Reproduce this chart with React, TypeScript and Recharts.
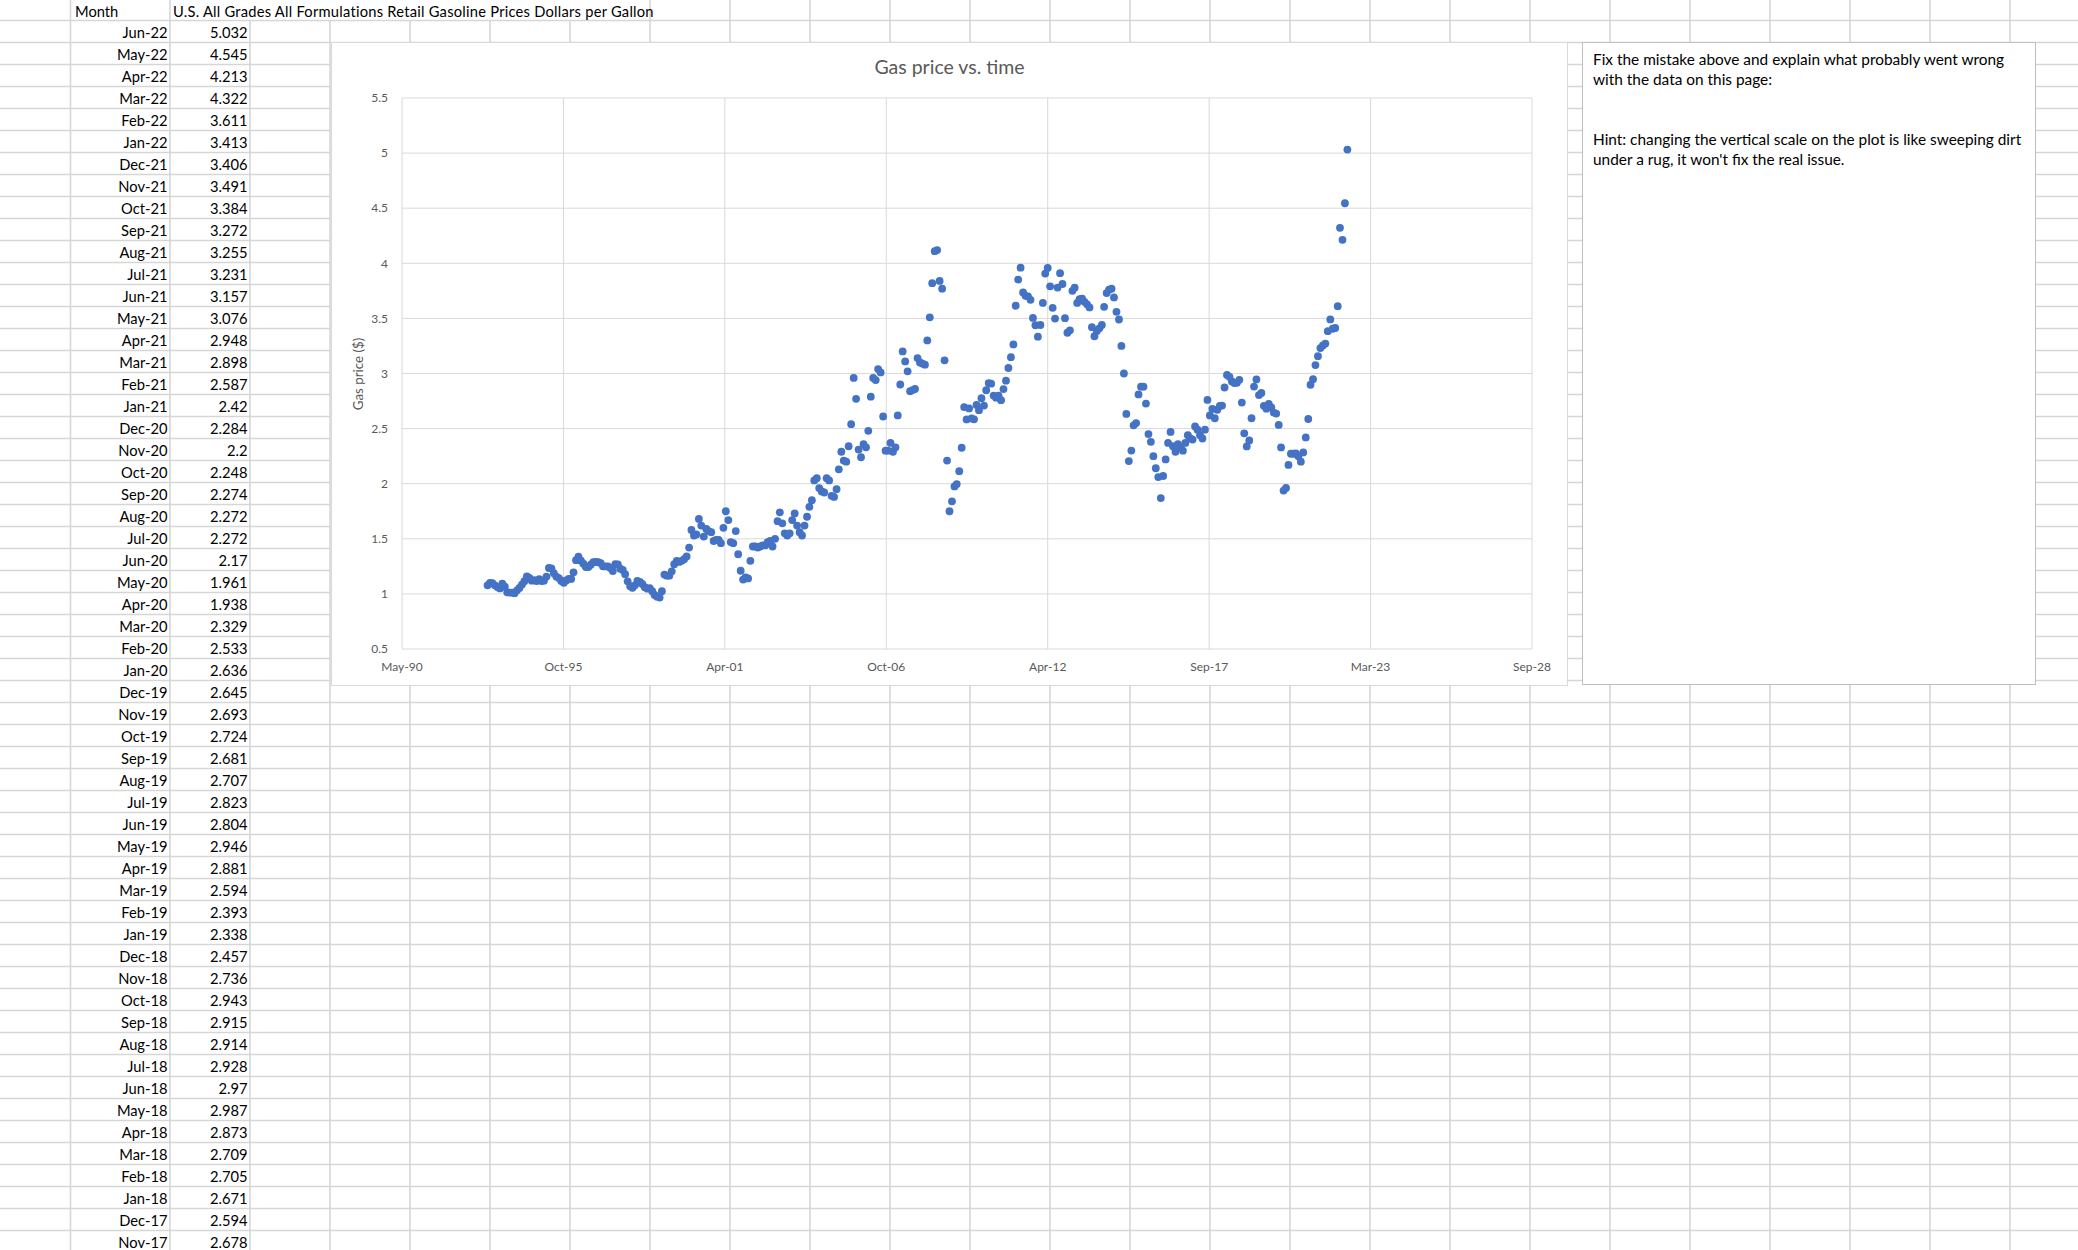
import React from 'react';
import { ScatterChart, Scatter, XAxis, YAxis, CartesianGrid } from 'recharts';

// ---------- data (month label, U.S. all grades retail gasoline price $/gal) ----------
const prices1993to1999: [string, number][] = [
  ['Apr-93', 1.078], ['May-93', 1.1], ['Jun-93', 1.097], ['Jul-93', 1.078], ['Aug-93', 1.062], ['Sep-93', 1.05],
  ['Oct-93', 1.092], ['Nov-93', 1.066], ['Dec-93', 1.014],
  ['Jan-94', 1.012], ['Feb-94', 1.012], ['Mar-94', 1.007], ['Apr-94', 1.032], ['May-94', 1.054], ['Jun-94', 1.085],
  ['Jul-94', 1.115], ['Aug-94', 1.159], ['Sep-94', 1.145], ['Oct-94', 1.12], ['Nov-94', 1.124], ['Dec-94', 1.117],
  ['Jan-95', 1.134], ['Feb-95', 1.117], ['Mar-95', 1.12], ['Apr-95', 1.157], ['May-95', 1.235], ['Jun-95', 1.232],
  ['Jul-95', 1.188], ['Aug-95', 1.157], ['Sep-95', 1.144], ['Oct-95', 1.118], ['Nov-95', 1.101], ['Dec-95', 1.122],
  ['Jan-96', 1.136], ['Feb-96', 1.136], ['Mar-96', 1.196], ['Apr-96', 1.306], ['May-96', 1.337], ['Jun-96', 1.301],
  ['Jul-96', 1.274], ['Aug-96', 1.243], ['Sep-96', 1.243], ['Oct-96', 1.265], ['Nov-96', 1.289], ['Dec-96', 1.29],
  ['Jan-97', 1.288], ['Feb-97', 1.279], ['Mar-97', 1.25], ['Apr-97', 1.249], ['May-97', 1.25], ['Jun-97', 1.236],
  ['Jul-97', 1.208], ['Aug-97', 1.271], ['Sep-97', 1.268], ['Oct-97', 1.229], ['Nov-97', 1.217], ['Dec-97', 1.179],
  ['Jan-98', 1.114], ['Feb-98', 1.07], ['Mar-98', 1.055], ['Apr-98', 1.078], ['May-98', 1.117], ['Jun-98', 1.109],
  ['Jul-98', 1.09], ['Aug-98', 1.061], ['Sep-98', 1.047], ['Oct-98', 1.052], ['Nov-98', 1.025], ['Dec-98', 0.99],
  ['Jan-99', 0.975], ['Feb-99', 0.967], ['Mar-99', 1.025], ['Apr-99', 1.175], ['May-99', 1.165], ['Jun-99', 1.165],
  ['Jul-99', 1.205], ['Aug-99', 1.27], ['Sep-99', 1.3], ['Oct-99', 1.29], ['Nov-99', 1.3], ['Dec-99', 1.315],
];

const prices2000to2007: [string, number][] = [
  ['Jan-00', 1.34], ['Feb-00', 1.42], ['Mar-00', 1.58], ['Apr-00', 1.53], ['May-00', 1.54], ['Jun-00', 1.68],
  ['Jul-00', 1.62], ['Aug-00', 1.52], ['Sep-00', 1.59], ['Oct-00', 1.57], ['Nov-00', 1.56], ['Dec-00', 1.48],
  ['Jan-01', 1.49], ['Feb-01', 1.49], ['Mar-01', 1.46], ['Apr-01', 1.6], ['May-01', 1.75], ['Jun-01', 1.67],
  ['Jul-01', 1.47], ['Aug-01', 1.46], ['Sep-01', 1.57], ['Oct-01', 1.36], ['Nov-01', 1.21], ['Dec-01', 1.13],
  ['Jan-02', 1.15], ['Feb-02', 1.14], ['Mar-02', 1.3], ['Apr-02', 1.43], ['May-02', 1.43], ['Jun-02', 1.42],
  ['Jul-02', 1.43], ['Aug-02', 1.44], ['Sep-02', 1.44], ['Oct-02', 1.47], ['Nov-02', 1.48], ['Dec-02', 1.43],
  ['Jan-03', 1.5], ['Feb-03', 1.66], ['Mar-03', 1.74], ['Apr-03', 1.64], ['May-03', 1.55], ['Jun-03', 1.53],
  ['Jul-03', 1.55], ['Aug-03', 1.67], ['Sep-03', 1.73], ['Oct-03', 1.62], ['Nov-03', 1.56], ['Dec-03', 1.53],
  ['Jan-04', 1.62], ['Feb-04', 1.7], ['Mar-04', 1.79], ['Apr-04', 1.85], ['May-04', 2.03], ['Jun-04', 2.05],
  ['Jul-04', 1.96], ['Aug-04', 1.93], ['Sep-04', 1.92], ['Oct-04', 2.05], ['Nov-04', 2.03], ['Dec-04', 1.89],
  ['Jan-05', 1.88], ['Feb-05', 1.95], ['Mar-05', 2.13], ['Apr-05', 2.29], ['May-05', 2.21], ['Jun-05', 2.2],
  ['Jul-05', 2.34], ['Aug-05', 2.54], ['Sep-05', 2.96], ['Oct-05', 2.77], ['Nov-05', 2.31], ['Dec-05', 2.24],
  ['Jan-06', 2.36], ['Feb-06', 2.33], ['Mar-06', 2.48], ['Apr-06', 2.79], ['May-06', 2.96], ['Jun-06', 2.94],
  ['Jul-06', 3.04], ['Aug-06', 3.01], ['Sep-06', 2.61], ['Oct-06', 2.3], ['Nov-06', 2.3], ['Dec-06', 2.37],
  ['Jan-07', 2.29], ['Feb-07', 2.33], ['Mar-07', 2.62], ['Apr-07', 2.9], ['May-07', 3.2], ['Jun-07', 3.11],
  ['Jul-07', 3.02], ['Aug-07', 2.84], ['Sep-07', 2.85], ['Oct-07', 2.86], ['Nov-07', 3.14], ['Dec-07', 3.1],
];

const prices2008to2014: [string, number][] = [
  ['Jan-08', 3.09], ['Feb-08', 3.08], ['Mar-08', 3.3], ['Apr-08', 3.51], ['May-08', 3.82], ['Jun-08', 4.11],
  ['Jul-08', 4.12], ['Aug-08', 3.84], ['Sep-08', 3.77], ['Oct-08', 3.12], ['Nov-08', 2.21], ['Dec-08', 1.75],
  ['Jan-09', 1.84], ['Feb-09', 1.975], ['Mar-09', 1.997], ['Apr-09', 2.114], ['May-09', 2.326], ['Jun-09', 2.695],
  ['Jul-09', 2.583], ['Aug-09', 2.683], ['Sep-09', 2.592], ['Oct-09', 2.584], ['Nov-09', 2.715], ['Dec-09', 2.667],
  ['Jan-10', 2.776], ['Feb-10', 2.709], ['Mar-10', 2.848], ['Apr-10', 2.913], ['May-10', 2.908], ['Jun-10', 2.8],
  ['Jul-10', 2.781], ['Aug-10', 2.798], ['Sep-10', 2.758], ['Oct-10', 2.859], ['Nov-10', 2.935], ['Dec-10', 3.05],
  ['Jan-11', 3.148], ['Feb-11', 3.264], ['Mar-11', 3.615], ['Apr-11', 3.852], ['May-11', 3.96], ['Jun-11', 3.735],
  ['Jul-11', 3.705], ['Aug-11', 3.7], ['Sep-11', 3.669], ['Oct-11', 3.504], ['Nov-11', 3.438], ['Dec-11', 3.334],
  ['Jan-12', 3.44], ['Feb-12', 3.64], ['Mar-12', 3.907], ['Apr-12', 3.958], ['May-12', 3.791], ['Jun-12', 3.596],
  ['Jul-12', 3.498], ['Aug-12', 3.78], ['Sep-12', 3.91], ['Oct-12', 3.812], ['Nov-12', 3.502], ['Dec-12', 3.37],
  ['Jan-13', 3.392], ['Feb-13', 3.75], ['Mar-13', 3.779], ['Apr-13', 3.64], ['May-13', 3.675], ['Jun-13', 3.68],
  ['Jul-13', 3.65], ['Aug-13', 3.628], ['Sep-13', 3.6], ['Oct-13', 3.42], ['Nov-13', 3.338], ['Dec-13', 3.386],
  ['Jan-14', 3.41], ['Feb-14', 3.44], ['Mar-14', 3.605], ['Apr-14', 3.73], ['May-14', 3.76], ['Jun-14', 3.77],
  ['Jul-14', 3.69], ['Aug-14', 3.56], ['Sep-14', 3.49], ['Oct-14', 3.25], ['Nov-14', 3.0], ['Dec-14', 2.633],
];

const prices2015to2022: [string, number][] = [
  ['Jan-15', 2.205], ['Feb-15', 2.301], ['Mar-15', 2.53], ['Apr-15', 2.55], ['May-15', 2.81], ['Jun-15', 2.88],
  ['Jul-15', 2.88], ['Aug-15', 2.727], ['Sep-15', 2.45], ['Oct-15', 2.38], ['Nov-15', 2.25], ['Dec-15', 2.14],
  ['Jan-16', 2.06], ['Feb-16', 1.87], ['Mar-16', 2.07], ['Apr-16', 2.22], ['May-16', 2.37], ['Jun-16', 2.47],
  ['Jul-16', 2.34], ['Aug-16', 2.29], ['Sep-16', 2.36], ['Oct-16', 2.33], ['Nov-16', 2.3], ['Dec-16', 2.37],
  ['Jan-17', 2.44], ['Feb-17', 2.41], ['Mar-17', 2.4], ['Apr-17', 2.52], ['May-17', 2.49], ['Jun-17', 2.44],
  ['Jul-17', 2.41], ['Aug-17', 2.49], ['Sep-17', 2.76], ['Oct-17', 2.62], ['Nov-17', 2.678], ['Dec-17', 2.594],
  ['Jan-18', 2.671], ['Feb-18', 2.705], ['Mar-18', 2.709], ['Apr-18', 2.873], ['May-18', 2.987], ['Jun-18', 2.97],
  ['Jul-18', 2.928], ['Aug-18', 2.914], ['Sep-18', 2.915], ['Oct-18', 2.943], ['Nov-18', 2.736], ['Dec-18', 2.457],
  ['Jan-19', 2.338], ['Feb-19', 2.393], ['Mar-19', 2.594], ['Apr-19', 2.881], ['May-19', 2.946], ['Jun-19', 2.804],
  ['Jul-19', 2.823], ['Aug-19', 2.707], ['Sep-19', 2.681], ['Oct-19', 2.724], ['Nov-19', 2.693], ['Dec-19', 2.645],
  ['Jan-20', 2.636], ['Feb-20', 2.533], ['Mar-20', 2.329], ['Apr-20', 1.938], ['May-20', 1.961], ['Jun-20', 2.17],
  ['Jul-20', 2.272], ['Aug-20', 2.272], ['Sep-20', 2.274], ['Oct-20', 2.248], ['Nov-20', 2.2], ['Dec-20', 2.284],
  ['Jan-21', 2.42], ['Feb-21', 2.587], ['Mar-21', 2.898], ['Apr-21', 2.948], ['May-21', 3.076], ['Jun-21', 3.157],
  ['Jul-21', 3.231], ['Aug-21', 3.255], ['Sep-21', 3.272], ['Oct-21', 3.384], ['Nov-21', 3.491], ['Dec-21', 3.406],
  ['Jan-22', 3.413], ['Feb-22', 3.611], ['Mar-22', 4.322], ['Apr-22', 4.213], ['May-22', 4.545], ['Jun-22', 5.032],
];

const monthNames = ['Jan', 'Feb', 'Mar', 'Apr', 'May', 'Jun', 'Jul', 'Aug', 'Sep', 'Oct', 'Nov', 'Dec'];
const xTicks = [33000, 35000, 37000, 39000, 41000, 43000, 45000, 47000];
const xTickLabels = ['May-90', 'Oct-95', 'Apr-01', 'Oct-06', 'Apr-12', 'Sep-17', 'Mar-23', 'Sep-28'];
const yTicks = [0.5, 1, 1.5, 2, 2.5, 3, 3.5, 4, 4.5, 5, 5.5];

const chartTitle = 'Gas price vs. time';
const yAxisTitle = 'Gas price ($)';
const headerMonth = 'Month';
const headerSeries = 'U.S. All Grades All Formulations Retail Gasoline Prices Dollars per Gallon';
const noteLines1 = ['Fix the mistake above and explain what probably went wrong', 'with the data on this page:'];
const noteLines2 = ['Hint: changing the vertical scale on the plot is like sweeping dirt', "under a rug, it won't fix the real issue."];

// ---------- helpers ----------
const excelSerial = (label: string) => {
  const [m, yy] = label.split('-');
  const n = parseInt(yy, 10);
  const year = n < 50 ? 2000 + n : 1900 + n;
  return Math.round((Date.UTC(year, monthNames.indexOf(m), 1) - Date.UTC(1899, 11, 30)) / 86400000);
};

const allRows = [...prices1993to1999, ...prices2000to2007, ...prices2008to2014, ...prices2015to2022];
const scatterData = allRows.map(([label, price]) => ({ x: excelSerial(label), y: price }));
const tableRows = [...allRows].reverse().slice(0, 56);

const FONT = 'Lato, "Open Sans", sans-serif';
const GRID = '#d6d6d6';

const SHEET_W = 2078;
const SHEET_H = 1250;
const colLines: number[] = [70.5, 170];
for (let x = 250; x < SHEET_W; x += 80) colLines.push(x);
const rowLines: number[] = [];
for (let y = 20.5; y < SHEET_H; y += 22) rowLines.push(y);
const overflowCols = [250, 330, 410, 490, 570];

const Dot = (p: any) => <circle cx={p.cx} cy={p.cy} r={3.9} fill="#4472C4" />;

export default function App() {
  return (
    <div style={{ position: 'fixed', left: 0, top: 0, width: SHEET_W, height: SHEET_H, background: '#fff', overflow: 'hidden', fontFamily: FONT }}>
      <svg width={SHEET_W} height={SHEET_H} style={{ position: 'absolute', left: 0, top: 0 }}>
        {rowLines.map((y) => (
          <line key={'r' + y} x1={0} x2={SHEET_W} y1={y} y2={y} stroke={GRID} strokeWidth={1.6} />
        ))}
        {colLines.map((x) => (
          <line key={'c' + x} x1={x} x2={x} y1={overflowCols.includes(x) ? 20.5 : 0} y2={SHEET_H} stroke={GRID} strokeWidth={1.6} />
        ))}
      </svg>

      {/* header row */}
      <div style={{ position: 'absolute', left: 75, top: 1, height: 20, lineHeight: '20px', fontSize: 14.7, color: '#000', whiteSpace: 'nowrap' }}>{headerMonth}</div>
      <div style={{ position: 'absolute', left: 173, top: 1, height: 20, lineHeight: '20px', fontSize: 14.7, letterSpacing: 0.24, color: '#000', whiteSpace: 'nowrap' }}>{headerSeries}</div>

      {/* table rows */}
      {tableRows.map(([label, price], i) => (
        <React.Fragment key={label}>
          <div style={{ position: 'absolute', left: 72, width: 95.5, top: 21 + 22 * i, height: 21, lineHeight: '22px', fontSize: 14.7, textAlign: 'right', color: '#000' }}>{label}</div>
          <div style={{ position: 'absolute', left: 172, width: 75.5, top: 21 + 22 * i, height: 21, lineHeight: '22px', fontSize: 14.7, textAlign: 'right', color: '#000' }}>{String(price)}</div>
        </React.Fragment>
      ))}

      {/* chart */}
      <div style={{ position: 'absolute', left: 331, top: 42, width: 1237, height: 644, background: '#fff', boxShadow: 'inset 0 0 0 1px #d9d9d9' }}>
        <ScatterChart width={1237} height={644} margin={{ top: 56, right: 36, bottom: 0, left: 0 }}>
          <CartesianGrid stroke="#d9d9d9" />
          <XAxis
            type="number"
            dataKey="x"
            domain={[33000, 47000]}
            ticks={xTicks}
            interval={0}
            height={37}
            axisLine={false}
            tickLine={false}
            tickSize={0}
            tickMargin={13}
            allowDataOverflow
            tickFormatter={(v: number) => xTickLabels[xTicks.indexOf(v)]}
            tick={{ fill: '#595959', fontSize: 12, fontFamily: FONT }}
          />
          <YAxis
            type="number"
            dataKey="y"
            domain={[0.5, 5.5]}
            ticks={yTicks}
            interval={0}
            width={71}
            axisLine={false}
            tickLine={false}
            tickSize={0}
            tickMargin={14}
            allowDataOverflow
            tick={{ fill: '#595959', fontSize: 12, fontFamily: FONT }}
          />
          <Scatter data={scatterData} fill="#4472C4" shape={Dot} isAnimationActive={false} />
        </ScatterChart>
        <div style={{ position: 'absolute', left: 0, top: 13, width: 1237, textAlign: 'center', fontSize: 19.5, lineHeight: '24px', color: '#595959', pointerEvents: 'none' }}>{chartTitle}</div>
        <div style={{ position: 'absolute', left: 27 - 60, top: 332 - 9, width: 120, height: 18, lineHeight: '18px', textAlign: 'center', fontSize: 13.3, color: '#595959', transform: 'rotate(-90deg)', whiteSpace: 'nowrap' }}>{yAxisTitle}</div>
      </div>

      {/* note box */}
      <div style={{ position: 'absolute', left: 1582, top: 42, width: 454, height: 643, boxSizing: 'border-box', background: '#fff', border: '1px solid #bfbfbf', padding: '6px 0 0 10px', fontSize: 15.4, lineHeight: '20px', color: '#000', whiteSpace: 'nowrap' }}>
        {noteLines1.map((t) => <div key={t}>{t}</div>)}
        <div>&nbsp;</div>
        <div>&nbsp;</div>
        {noteLines2.map((t) => <div key={t}>{t}</div>)}
      </div>
    </div>
  );
}
